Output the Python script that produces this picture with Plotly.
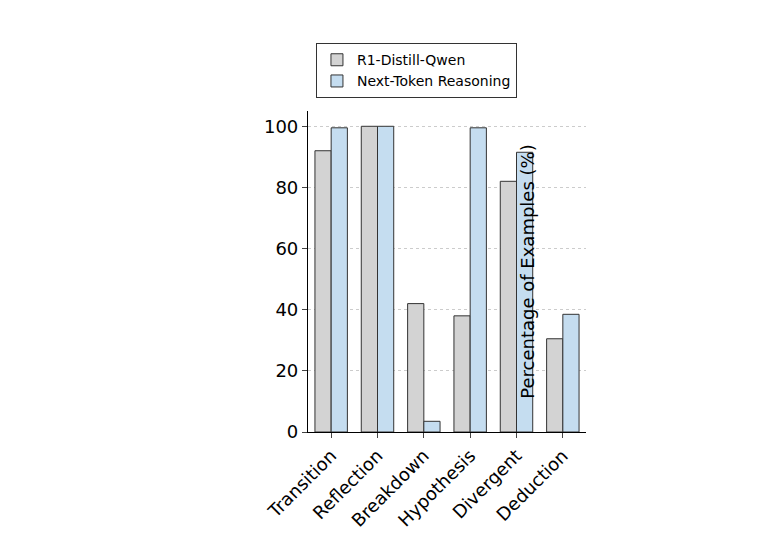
import plotly.graph_objects as go

categories = ["Transition", "Reflection", "Breakdown", "Hypothesis", "Divergent", "Deduction"]
r1_distill = [92, 100, 42, 38, 82, 30.5]
next_token = [99.5, 100, 3.5, 99.5, 91.5, 38.5]
series_names = ["R1-Distill-Qwen", "Next-Token Reasoning"]

fig = go.Figure()
fig.add_bar(x=categories, y=r1_distill, name=series_names[0],
            marker=dict(color="#d3d3d3", line=dict(color="#333333", width=1)))
fig.add_bar(x=categories, y=next_token, name=series_names[1],
            marker=dict(color="#c5ddf0", line=dict(color="#333333", width=1)))

fig.update_layout(
    width=768, height=541, plot_bgcolor="white", paper_bgcolor="white",
    font=dict(family="DejaVu Sans", color="black"),
    margin=dict(l=300, r=190, t=103, b=117, autoexpand=False),
    barmode="group", bargap=0.3, bargroupgap=0,
    legend=dict(x=0.401, y=0.935, xref="container", yref="container",
                xanchor="left", yanchor="top",
                bordercolor="#333333", borderwidth=1, font=dict(size=14)),
    showlegend=True,
)
fig.update_xaxes(showline=True, linecolor="black", linewidth=1.2, ticks="outside",
                 tickangle=-45, tickfont=dict(size=18), automargin=False)
fig.update_yaxes(range=[0, 105], showline=True, linecolor="black", linewidth=1.2,
                 ticks="outside", tickvals=[0, 20, 40, 60, 80, 100], automargin=False,
                 tickfont=dict(size=18), showgrid=True, gridcolor="#cccccc", griddash="dot",
                 title=dict(text="Percentage of Examples (%)", font=dict(size=18)))
fig.write_html("out.html")
